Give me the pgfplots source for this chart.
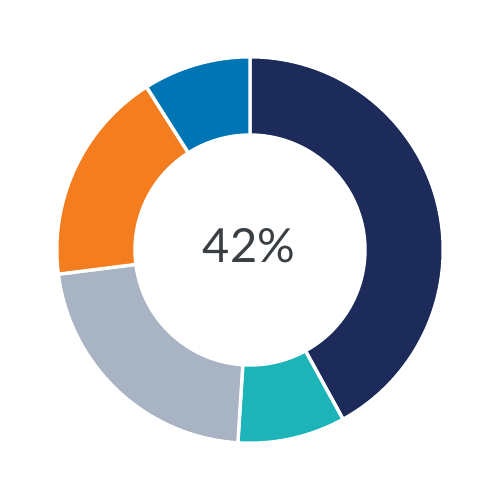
\documentclass[border=0pt]{standalone}
\usepackage{pgfplots}
\pgfplotsset{compat=1.18}
\usepackage{fontspec}
\setmainfont{Lato}
\definecolor{cnavy}{HTML}{1C2B5A}
\definecolor{cteal}{HTML}{1CB4B8}
\definecolor{cgray}{HTML}{A8B3C3}
\definecolor{corange}{HTML}{F47D20}
\definecolor{cblue}{HTML}{0075B5}
\definecolor{ctext}{HTML}{3A3F44}
\begin{document}
\begin{tikzpicture}
\begin{axis}[
  hide axis, scale only axis,
  width=250pt, height=250pt,
  xmin=-250, xmax=250, ymin=-250, ymax=250,
  clip=false]
  \addplot[draw=none] coordinates {(-250,-250) (250,250)};
  % segments, percent / colour, clockwise from the top
  \def\start{90}
  \foreach \v/\c in {42/cnavy, 9/cteal, 22/cgray, 18/corange, 9/cblue} {
    \pgfmathsetmacro\e{\start-\v*3.6}
    \edef\temp{\noexpand\filldraw[fill=\c, draw=white, line width=1.7pt,
      shift={(axis cs:0,0)}]
      (\start:96.6pt) arc[start angle=\start, end angle=\e, radius=96.6pt]
      -- (\e:57.5pt) arc[start angle=\e, end angle=\start, radius=57.5pt] -- cycle;}
    \temp
    \global\let\start\e
  }
  \node[text=ctext, font=\fontsize{23.5}{24}\selectfont] at (axis cs:-1,4) {42\%};
\end{axis}
\end{tikzpicture}
\end{document}
